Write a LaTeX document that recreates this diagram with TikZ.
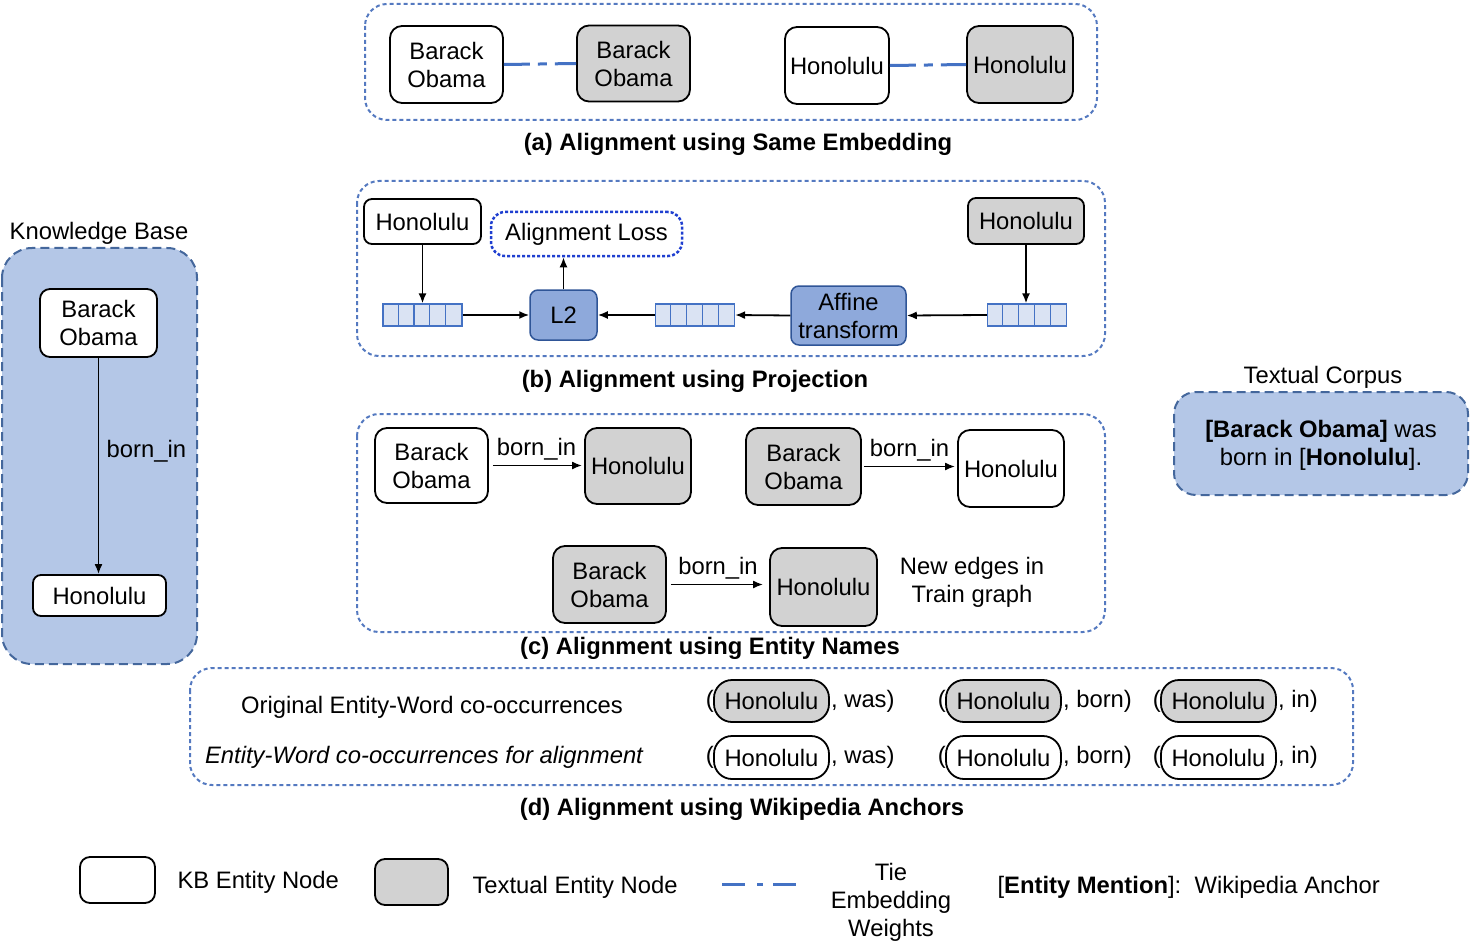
\documentclass[tikz,border=0pt]{standalone}
\usepackage{fontspec}
\setmainfont{Liberation Sans}
\usetikzlibrary{arrows.meta,calc}
\definecolor{secblue}{HTML}{5479C0}
\definecolor{lbfill}{HTML}{B4C7E7}
\definecolor{kbborder}{HTML}{44679C}
\definecolor{midfill}{HTML}{8EA9DB}
\definecolor{midborder}{HTML}{2F5597}
\definecolor{vecfill}{HTML}{DAE3F3}
\definecolor{vecborder}{HTML}{4472C4}
\definecolor{txgray}{HTML}{D2D2D2}
\definecolor{losscol}{HTML}{1F3FD0}
\definecolor{tiecol}{HTML}{4472C4}
\newcommand\fsz{\fontsize{23.8}{28}\selectfont}
\tikzset{
  every node/.style={font=\fsz},
  ent/.style={draw, line width=1.8pt, rounded corners=12pt, align=center, inner sep=0pt},
  kbent/.style={ent, fill=white},
  txent/.style={ent, fill=txgray},
  sectionbox/.style={draw=secblue, line width=2pt, dash pattern=on 4pt off 3pt, rounded corners=22pt},
  corpusbox/.style={draw=kbborder, fill=lbfill, line width=2pt, dash pattern=on 9pt off 5pt, rounded corners=28pt},
  caption/.style={font=\fsz\bfseries},
  arr/.style={line width=1.8pt, -{Latex[length=10pt,width=8pt]}},
  tie/.style={draw=tiecol, line width=3pt, dash pattern=on 26pt off 8pt on 9pt off 8pt},
  vecbox/.style={draw=vecborder, fill=vecfill, line width=1.2pt, minimum width=79pt, minimum height=22pt, inner sep=0pt},
  midbox/.style={draw=midborder, fill=midfill, line width=1.5pt, rounded corners=8pt, align=center, inner sep=0pt},
  pill/.style={draw, line width=1.8pt, rounded corners=18pt, inner sep=0pt, minimum width=115pt},
}
\newcommand\veccells[1]{\foreach \i in {1,...,4}{\draw[vecborder, line width=1.2pt] ([xshift=\i*15.8pt]#1.north west) -- ([xshift=\i*15.8pt]#1.south west);}}
\begin{document}
\begin{tikzpicture}[x=1pt,y=-1pt]
\useasboundingbox (0,0) rectangle (1471,941);

% ---------- (a)
\draw[sectionbox] (365,4) rectangle (1097,120);
\node[kbent, minimum width=113pt, minimum height=77pt] (a1) at (446.5,64.5) {Barack\\Obama};
\node[txent, minimum width=113pt, minimum height=76pt] (a2) at (633.5,63.5) {Barack\\Obama};
\node[kbent, minimum width=104pt, minimum height=77pt] (a3) at (837,65.5) {Honolulu};
\node[txent, minimum width=106pt, minimum height=77pt] (a4) at (1020,64.5) {Honolulu};
\draw[tie] (a1.east) -- (a2.west);
\draw[tie] (a3.east) -- (a4.west);
\node[caption] (capa) at (738,144) {(a) Alignment using Same Embedding};

% ---------- (b)
\draw[sectionbox] (357,181) rectangle (1105,356);
\node[kbent, rounded corners=8pt, minimum width=117pt, minimum height=45pt] (bH1) at (422.5,221.5) {Honolulu};
\node[draw=losscol, line width=2.5pt, dash pattern=on 3pt off 2pt, rounded corners=14pt, minimum width=191pt, minimum height=44pt, inner sep=0pt] (bAL) at (586.5,234) {Alignment Loss};
\node[vecbox] (vL) at (422.5,315) {};
\veccells{vL}
\node[midbox, minimum width=67pt, minimum height=50pt] (bL2) at (563.5,315) {L2};
\node[vecbox] (vM) at (695,315) {};
\veccells{vM}
\node[midbox, minimum width=115pt, minimum height=59pt] (bAff) at (848.5,315.5) {Affine\\transform};
\node[vecbox] (vR) at (1027,315) {};
\veccells{vR}
\node[txent, rounded corners=8pt, minimum width=116pt, minimum height=46pt] (bH2) at (1026,221) {Honolulu};
\draw[arr] (bH1.south) -- (bH1.south |- vL.north);
\draw[arr] (vL.east) -- (bL2.west);
\draw[arr] (bL2.north) -- (bL2.north |- bAL.south);
\draw[arr] (vM.west) -- (bL2.east);
\draw[arr] (bAff.west) -- (vM.east);
\draw[arr] (vR.west) -- (bAff.east);
\draw[arr] (bH2.south) -- (bH2.south |- vR.north);
\node[caption] (capb) at (695,381) {(b) Alignment using Projection};

% ---------- Knowledge base
\node (kblabel) at (99,233) {Knowledge Base};
\draw[corpusbox, rounded corners=30pt] (2,248) rectangle (197,664);
\node[kbent, rounded corners=10pt, minimum width=117pt, minimum height=68pt] (kbBO) at (98.5,323) {Barack\\Obama};
\node[kbent, rounded corners=8pt, minimum width=133pt, minimum height=41pt] (kbH) at (99.5,595.5) {Honolulu};
\draw[arr] (kbBO.south) -- (kbBO.south |- kbH.north) node[pos=0.43, right=4pt] (kbrel) {born\_in};

% ---------- Textual corpus
\node (tclabel) at (1323,377) {Textual Corpus};
\draw[corpusbox, rounded corners=22pt] (1174,392) rectangle (1468,495);
\node[align=center] (tctext) at (1321,445) {\textbf{[Barack Obama]} was\\born in [\textbf{Honolulu}].};

% ---------- (c)
\draw[sectionbox] (357,414) rectangle (1105,632);
\node[kbent, minimum width=113pt, minimum height=75pt] (c1) at (431.5,465.5) {Barack\\Obama};
\node[txent, minimum width=106pt, minimum height=76pt] (c2) at (638,466) {Honolulu};
\node[txent, minimum width=115pt, minimum height=77pt] (c3) at (803.5,466.5) {Barack\\Obama};
\node[kbent, minimum width=106pt, minimum height=77pt] (c4) at (1011,468.5) {Honolulu};
\node[txent, minimum width=113pt, minimum height=77pt] (c5) at (609.5,584.5) {Barack\\Obama};
\node[txent, minimum width=107pt, minimum height=78pt] (c6) at (823.5,587) {Honolulu};
\draw[arr, shorten <=4pt, shorten >=2pt] (c1.east) -- (c1.east -| c2.west) node[midway, above=1pt] (r1) {born\_in};
\draw[arr, shorten <=2pt, shorten >=2pt] (c3.east) -- (c3.east -| c4.west) node[midway, above=1pt] (r2) {born\_in};
\draw[arr, shorten <=4pt, shorten >=6pt] (c5.east) -- (c5.east -| c6.west) node[midway, above=1pt] (r3) {born\_in};
\node[align=center] (newedges) at (972,582) {New edges in\\Train graph};
\node[caption] (capc) at (710,648) {(c) Alignment using Entity Names};

% ---------- (d)
\draw[sectionbox] (190,668) rectangle (1353,785);
\node (d1label) at (432,707) {Original Entity-Word co-occurrences};
\node (d2label) at (424,757) {\itshape Entity-Word co-occurrences for alignment};
\foreach \n/\cx/\w in {1/771.5/was, 2/1003.5/born, 3/1218.5/in}{
  \node[pill, fill=txgray, minimum height=42pt] (pa\n) at (\cx,701) {Honolulu};
  \node[anchor=east, inner sep=1pt] (la\n) at ([xshift=2pt]pa\n.west) {(};
  \node[anchor=west, inner sep=1pt] (ra\n) at (pa\n.east) {, \w)};
  \node[pill, fill=white, minimum height=43pt] (pb\n) at (\cx,757.5) {Honolulu};
  \node[anchor=east, inner sep=1pt] (lb\n) at ([xshift=2pt]pb\n.west) {(};
  \node[anchor=west, inner sep=1pt] (rb\n) at (pb\n.east) {, \w)};
}
\node[caption] (capd) at (742,809) {(d) Alignment using Wikipedia Anchors};

% ---------- legend
\node[kbent, rounded corners=10pt, minimum width=75pt, minimum height=46pt] (lg1) at (117.5,880) {};
\node[anchor=west] (lg1t) at (174,882) {KB Entity Node};
\node[txent, rounded corners=10pt, minimum width=73pt, minimum height=46pt] (lg2) at (411.5,882) {};
\node[anchor=west] (lg2t) at (469,887) {Textual Entity Node};
\coordinate (tieA) at (722,884);
\coordinate (tieB) at (796,884);
\draw[tie, dash pattern=on 23pt off 12pt on 6pt off 10pt] (tieA) -- (tieB);
\node[align=center] (lg3t) at (891,902) {Tie\\Embedding\\Weights};
\node[anchor=west] (lg4t) at (994,887) {[\textbf{Entity Mention}]:\ \ Wikipedia Anchor};
\end{tikzpicture}
\end{document}
